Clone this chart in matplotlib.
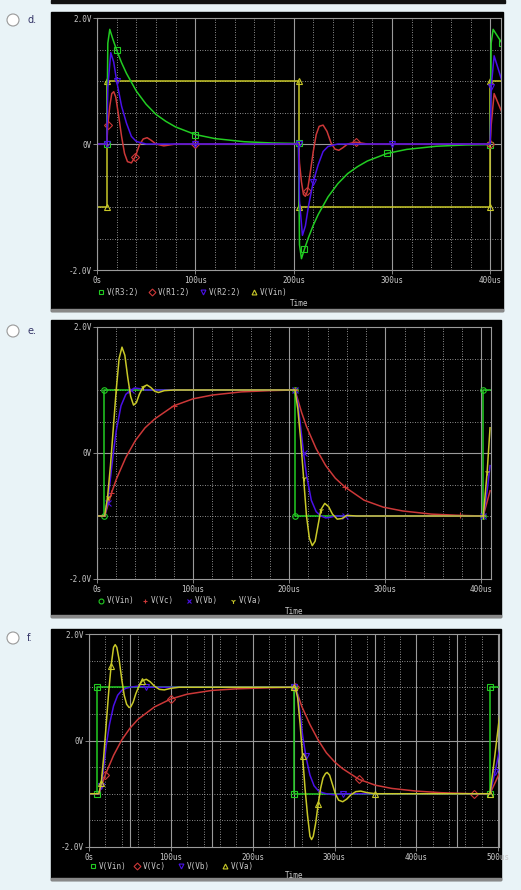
import matplotlib
matplotlib.use("Agg")
import matplotlib.pyplot as plt
from matplotlib.patches import Rectangle, Circle

W, H = 521, 890
# ---------------- data (time in us, volts) ----------------
# panel d
d_vin_t = [0, 10, 10, 205, 205, 400, 400, 412]
d_vin_v = [-1, -1, 1, 1, -1, -1, 1, 1]
d_r3_t = [0, 10, 11, 13, 16, 20, 25, 30, 40, 50, 60, 70, 80, 100, 120, 150, 180, 205,
          206, 208, 211, 215, 220, 225, 235, 245, 255, 265, 275, 295, 315, 345, 375, 400, 401, 403, 412]
d_r3_v = [0, 0, 1.6, 1.82, 1.67, 1.49, 1.29, 1.12, 0.84, 0.63, 0.47, 0.36, 0.27, 0.15, 0.086, 0.036, 0.015, 0.008,
          -1.6, -1.82, -1.67, -1.49, -1.29, -1.12, -0.84, -0.63, -0.47, -0.36, -0.27, -0.15, -0.086, -0.036, -0.015, -0.008, 1.6, 1.82, 1.6]
d_r2_t = [0, 10, 11, 14, 17, 20, 25, 30, 35, 40, 50, 60, 100, 205, 206, 209, 212, 215, 220, 225, 230, 235, 245, 255, 300, 400, 401, 404, 412]
d_r2_v = [0, 0, 0.9, 1.45, 1.3, 1.0, 0.6, 0.33, 0.12, 0.04, 0, 0, 0, 0, -0.9, -1.45, -1.3, -1.0, -0.6, -0.33, -0.12, -0.04, 0, 0, 0, 0, 0.9, 1.4, 1.0]
d_r1_t = [0, 10, 11, 13, 15, 17, 19, 22, 25, 28, 31, 35, 39, 43, 47, 51, 55, 60, 68, 80, 100,
          205, 206, 208, 210, 212, 214, 217, 220, 223, 226, 230, 234, 238, 242, 246, 250, 255, 263, 275, 300, 400, 401, 404, 412]
d_r1_v = [0, 0, 0.3, 0.6, 0.8, 0.83, 0.75, 0.45, 0.12, -0.15, -0.28, -0.3, -0.2, -0.02, 0.08, 0.1, 0.06, 0.0, -0.03, 0, 0,
          0, -0.3, -0.6, -0.8, -0.83, -0.75, -0.45, -0.12, 0.15, 0.28, 0.3, 0.2, 0.02, -0.08, -0.1, -0.06, 0.0, 0.03, 0, 0, 0, 0.3, 0.8, 0.5]

# panel e
e_vin_t = [0, 7, 7, 206, 206, 402, 402, 412]
e_vin_v = [-1, -1, 1, 1, -1, -1, 1, 1]
e_va_t = [0, 8, 11, 14, 17, 20, 23, 26, 29, 32, 35, 38, 41, 44, 48, 52, 56, 60, 64, 70, 80, 206,
          209, 212, 215, 218, 221, 224, 227, 230, 233, 237, 241, 245, 250, 255, 260, 270, 402, 406, 409]
e_va_v = [-1, -1, -0.7, -0.2, 0.4, 1.0, 1.5, 1.68, 1.55, 1.2, 0.9, 0.76, 0.8, 0.93, 1.05, 1.08, 1.04, 0.98, 0.96, 0.99, 1, 1,
          0.7, 0.2, -0.4, -1.0, -1.35, -1.47, -1.4, -1.15, -0.9, -0.8, -0.85, -0.97, -1.05, -1.04, -0.99, -1, -1, -0.3, 0.4]
e_vb_t = [0, 8, 11, 14, 17, 20, 25, 30, 35, 40, 45, 50, 60, 206, 209, 212, 215, 218, 223, 228, 233, 238, 243, 248, 258, 402, 406, 409]
e_vb_v = [-1, -1, -0.8, -0.4, 0, 0.35, 0.75, 0.93, 1.0, 1.03, 1.02, 1.0, 1, 1, 0.8, 0.4, 0, -0.35, -0.75, -0.93, -1.0, -1.03, -1.02, -1.0, -1, -1, -0.6, -0.2]
e_vc_t = [0, 8, 15, 20, 30, 40, 50, 60, 80, 100, 120, 150, 180, 206, 213, 218, 228, 238, 248, 258, 278, 298, 318, 348, 378, 402, 409]
e_vc_v = [-1, -1, -0.64, -0.42, -0.07, 0.2, 0.4, 0.54, 0.75, 0.86, 0.92, 0.97, 0.99, 1, 0.64, 0.42, 0.07, -0.2, -0.4, -0.54, -0.75, -0.86, -0.92, -0.97, -0.99, -1, -0.6]

# panel f
f_vin_t = [0, 10, 10, 250, 250, 490, 490, 502]
f_vin_v = [-1, -1, 1, 1, -1, -1, 1, 1]
f_va_t = [0, 12, 15, 18, 21, 24, 27, 30, 32, 34, 37, 40, 43, 46, 49, 51, 54, 57, 61, 65, 70, 75, 80, 86, 92, 100, 110, 250,
          252, 255, 258, 261, 264, 267, 270, 272, 274, 277, 280, 283, 286, 289, 291, 294, 297, 301, 305, 310, 315, 320, 326, 332, 340, 350, 490, 495, 502]
f_va_v = [-1, -1, -0.8, -0.3, 0.3, 0.9, 1.4, 1.75, 1.8, 1.75, 1.5, 1.15, 0.85, 0.68, 0.62, 0.63, 0.72, 0.87, 1.02, 1.12, 1.15, 1.1, 1.02, 0.96, 0.95, 0.98, 1.0, 1,
          1, 0.8, 0.3, -0.3, -0.9, -1.4, -1.8, -1.86, -1.8, -1.55, -1.2, -0.9, -0.7, -0.62, -0.6, -0.65, -0.8, -1.0, -1.12, -1.15, -1.1, -1.02, -0.96, -0.95, -0.98, -1.0, -1, -0.4, 0.5]
f_vb_t = [0, 12, 15, 18, 21, 25, 30, 35, 40, 45, 50, 60, 70, 250, 252, 255, 258, 261, 265, 270, 275, 280, 285, 290, 300, 310, 490, 496, 502]
f_vb_v = [-1, -1, -0.85, -0.5, -0.1, 0.3, 0.65, 0.85, 0.94, 0.98, 1.0, 1.02, 1.0, 1, 1, 0.85, 0.5, 0.1, -0.3, -0.65, -0.85, -0.94, -0.98, -1.0, -1.02, -1.0, -1, -0.6, -0.15]
f_vc_t = [0, 12, 20, 30, 40, 50, 60, 80, 100, 120, 150, 180, 220, 252, 260, 270, 280, 290, 300, 310, 330, 350, 370, 400, 430, 470, 490, 502]
f_vc_v = [-1, -1, -0.64, -0.28, 0.01, 0.23, 0.40, 0.63, 0.78, 0.87, 0.94, 0.97, 0.99, 1, 0.64, 0.3, 0.01, -0.23, -0.40, -0.53, -0.73, -0.84, -0.9, -0.95, -0.98, -1, -1, -0.6]

GREEN, RED, BLUE, YEL = "#22cc22", "#cc3838", "#4a10e8", "#c8c828"
GRID = "#9a9a9a"
TXT = "#c8c8c8"

fig = plt.figure(figsize=(W/100, H/100), dpi=100)
fig.patch.set_facecolor("#e9f3f7")

def px_axes(x0, y0, x1, y1):
    return fig.add_axes([x0/W, 1-y1/H, (x1-x0)/W, (y1-y0)/H])

ov = fig.add_axes([0, 0, 1, 1], zorder=-1)
ov.set_xlim(0, W); ov.set_ylim(H, 0); ov.axis("off")
ov.add_patch(Rectangle((51, 0), 454, 3, color="#111111"))

panels = [
    dict(box=(51, 12, 503, 311), plot=(97, 18, 501, 270), tmax=411, xt=[0, 100, 200, 300, 400],
         xl=["0s", "100us", "200us", "300us", "400us"], minor=20, major=100, lab="d.", ly=20,
         leg=[("s", GREEN, "V(R3:2)"), ("D", RED, "V(R1:2)"), ("v", BLUE, "V(R2:2)"), ("^", YEL, "V(Vin)")],
         legy=292, timey=303,
         curves=[(d_vin_t, d_vin_v, YEL, "^"), (d_r3_t, d_r3_v, GREEN, "s"), (d_r1_t, d_r1_v, RED, "D"), (d_r2_t, d_r2_v, BLUE, "v")]),
    dict(box=(51, 320, 501, 617), plot=(97, 327, 491, 579), tmax=410, xt=[0, 100, 200, 300, 400],
         xl=["0s", "100us", "200us", "300us", "400us"], minor=20, major=100, lab="e.", ly=331,
         leg=[("o", GREEN, "V(Vin)"), ("+", RED, "V(Vc)"), ("x", BLUE, "V(Vb)"), ("1", YEL, "V(Va)")],
         legy=601, timey=612,
         curves=[(e_vin_t, e_vin_v, GREEN, "o"), (e_vc_t, e_vc_v, RED, "+"), (e_vb_t, e_vb_v, BLUE, "x"), (e_va_t, e_va_v, YEL, "1")]),
    dict(box=(51, 629, 501, 880), plot=(89, 634, 499, 847), tmax=501, xt=[0, 100, 200, 300, 400, 500],
         xl=["0s", "100us", "200us", "300us", "400us", "500us"], minor=20, major=50, lab="f.", ly=638,
         leg=[("s", GREEN, "V(Vin)"), ("D", RED, "V(Vc)"), ("v", BLUE, "V(Vb)"), ("^", YEL, "V(Va)")],
         legy=866, timey=875,
         curves=[(f_vin_t, f_vin_v, GREEN, "s"), (f_vc_t, f_vc_v, RED, "D"), (f_vb_t, f_vb_v, BLUE, "v"), (f_va_t, f_va_v, YEL, "^")]),
]

for P in panels:
    bx0, by0, bx1, by1 = P["box"]
    ov.add_patch(Rectangle((bx0, by0), bx1-bx0, by1-by0, color="black"))
    ov.add_patch(Rectangle((bx0, by1-2), bx1-bx0, 2, color="#888888"))
    ov.add_patch(Circle((13, P["ly"]), 6, facecolor="white", edgecolor="#999999", lw=0.8))
    ov.text(27, P["ly"], P["lab"], fontsize=7, color="#333366", va="center")
    px0, py0, px1, py1 = P["plot"]
    ax = px_axes(px0, py0, px1, py1)
    ax.set_facecolor("black")
    ax.set_xlim(0, P["tmax"]); ax.set_ylim(-2, 2)
    t = 0
    while t <= P["tmax"]:
        ax.axvline(t, color="#bbbbbb", lw=0.6, ls=(0, (1, 2)), zorder=0)
        t += P["minor"]
    t = 0
    while t <= P["tmax"]:
        ax.axvline(t, color=GRID, lw=0.8, zorder=0)
        t += P["major"]
    for yv in [-1.5, -1, -0.5, 0.5, 1, 1.5]:
        ax.axhline(yv, color="#bbbbbb", lw=0.6, ls=(0, (1, 2)), zorder=0)
    ax.axhline(0, color=GRID, lw=0.8, zorder=0)
    for s in ax.spines.values():
        s.set_color(GRID); s.set_linewidth(0.8)
    ax.set_xticks(P["xt"]); ax.set_xticklabels(P["xl"])
    ax.set_yticks([-2, 0, 2]); ax.set_yticklabels(["-2.0V", "0V", "2.0V"])
    ax.tick_params(colors=GRID, labelcolor=TXT, labelsize=5.5, length=3, width=0.6, pad=1)
    for lbl in ax.get_xticklabels() + ax.get_yticklabels():
        lbl.set_family("DejaVu Sans Mono")
    for (tt, vv, c, m) in P["curves"]:
        ax.plot(tt, vv, color=c, lw=1.1, marker=m, ms=4, mfc="none", mec=c, mew=0.8,
                markevery=(0.05, 0.25), clip_on=True)
    # legend
    x = px0 + 4
    for (m, c, name) in P["leg"]:
        ov.plot([x], [P["legy"]], marker=m, ms=3.5, mfc="none", mec=c, mew=0.8, ls="none")
        ov.text(x + 6, P["legy"], name, fontsize=5.5, color=TXT, va="center", family="DejaVu Sans Mono")
        x += 44 if len(name) < 7 else 51
    ov.text((px0 + px1)/2, P["timey"], "Time", fontsize=5.5, color=TXT, ha="center", va="center", family="DejaVu Sans Mono")

fig.savefig("out.png", dpi=100, facecolor=fig.get_facecolor())
